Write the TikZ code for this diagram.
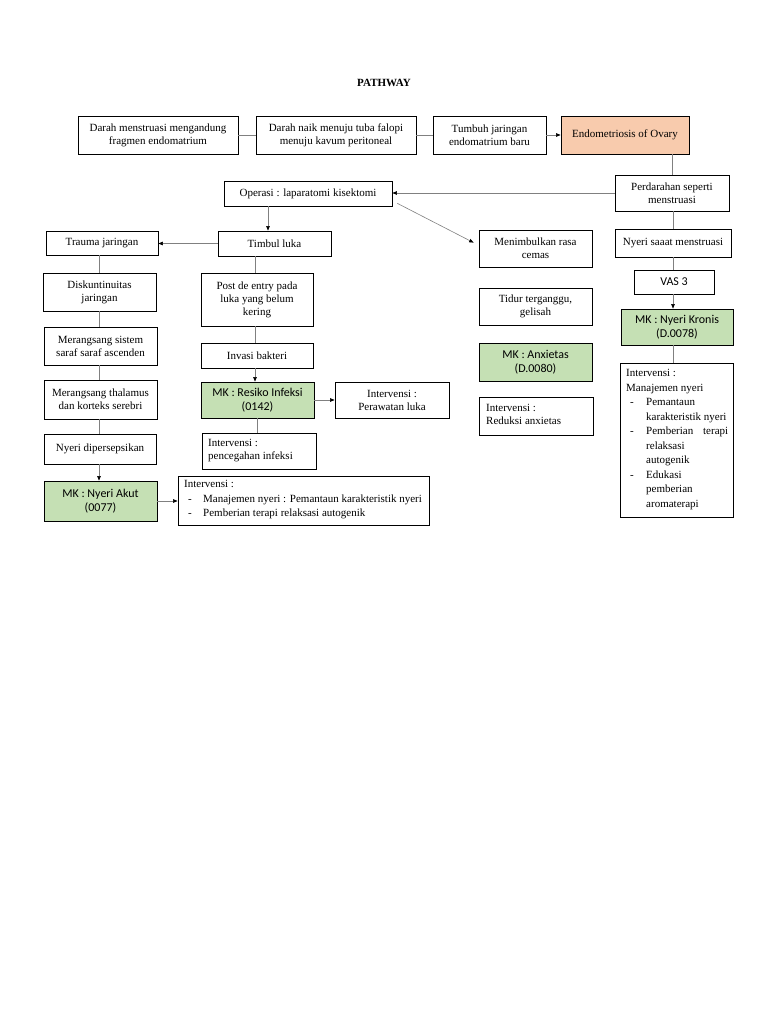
\documentclass[tikz,border=0pt]{standalone}
\usepackage{fontspec}
\setmainfont{Liberation Serif}
\newfontfamily\mkfont{Carlito}
\usetikzlibrary{arrows.meta}
\definecolor{mkgreen}{HTML}{C5E0B4}
\definecolor{peach}{HTML}{F8CBAD}
\begin{document}
\begin{tikzpicture}[x=1pt,y=-1pt,
  box/.style={draw=black, line width=0.75pt, inner sep=0pt, align=center,
    font=\fontsize{11}{13}\selectfont},
  mk/.style={box, fill=mkgreen, font=\mkfont\fontsize{12}{14.5}\selectfont},
  ln/.style={draw=black!50, line width=0.6pt},
  ar/.style={ln, -{Triangle[length=4.5pt,width=3.5pt,black]}},
  txt/.style={inner sep=0pt, anchor=north west, align=left,
    font=\fontsize{11}{14.5}\selectfont},
  txts/.style={inner sep=0pt, anchor=north west, align=left,
    font=\fontsize{11}{13}\selectfont}
]
\fill[white] (0,0) rectangle (768,1024);
\useasboundingbox (0,0) rectangle (768,1024);

\node[font=\bfseries\fontsize{11}{13}\selectfont] (title) at (384,83) {PATHWAY};

% top row
\node[box, minimum width=160pt, minimum height=38pt] (b1) at (158,135) {Darah menstruasi mengandung\\fragmen endomatrium};
\node[box, minimum width=160pt, minimum height=38pt] (b2) at (336,135) {Darah naik menuju tuba falopi\\menuju kavum peritoneal};
\node[box, minimum width=113pt, minimum height=38pt] (b3) at (489.5,135) {Tumbuh jaringan\\endomatrium baru};
\node[box, fill=peach, minimum width=128pt, minimum height=38pt] (b4) at (625,135) {Endometriosis of Ovary};

% right column
\node[box, minimum width=114pt, minimum height=36pt] (perd) at (672,193) {Perdarahan seperti\\menstruasi};
\node[box, minimum width=116pt, minimum height=28pt] (nsaat) at (673,243) {Nyeri saaat menstruasi};
\node[box, font=\mkfont\fontsize{12}{14}\selectfont, minimum width=80pt, minimum height=24pt] (vas) at (674,282) {VAS 3};
\node[mk, minimum width=112pt, minimum height=36pt] (mkkron) at (677,327) {MK : Nyeri Kronis\\(D.0078)};
\node[box, minimum width=113pt, minimum height=154pt] (intr) at (676.5,440) {};
\node[txt] (intrt) at (626,369.5) {Intervensi :\\Manajemen nyeri\\
\hspace*{4pt}\makebox[16pt][l]{-}Pemantaun\\
\hspace*{20pt}karakteristik nyeri\\
\hspace*{4pt}\makebox[16pt][l]{-}\makebox[82pt][s]{Pemberian\hfill terapi}\\
\hspace*{20pt}relaksasi\\
\hspace*{20pt}autogenik\\
\hspace*{4pt}\makebox[16pt][l]{-}Edukasi\\
\hspace*{20pt}pemberian\\
\hspace*{20pt}aromaterapi};

% middle-right column
\node[box, minimum width=113pt, minimum height=37pt] (cemas) at (535.5,248.5) {Menimbulkan rasa\\cemas};
\node[box, minimum width=113pt, minimum height=37pt] (tidur) at (535.5,306.5) {Tidur terganggu,\\gelisah};
\node[mk, minimum width=113pt, minimum height=38pt] (mkanx) at (535.5,362) {MK : Anxietas\\(D.0080)};
\node[box, minimum width=114pt, minimum height=38pt] (intanx) at (536,416) {};
\node[txts] (intanxt) at (486,404.5) {Intervensi :\\Reduksi anxietas};

% operasi & middle column
\node[box, minimum width=168pt, minimum height=25pt] (oper) at (308,193.5) {Operasi : laparatomi kisektomi};
\node[box, minimum width=113pt, minimum height=25pt] (timbul) at (274.5,243.5) {Timbul luka};
\node[box, minimum width=112pt, minimum height=53pt] (post) at (257,299.5) {Post de entry pada\\luka yang belum\\kering};
\node[box, minimum width=112pt, minimum height=25pt] (invasi) at (257,355.5) {Invasi bakteri};
\node[mk, minimum width=113pt, minimum height=36pt] (mkinf) at (257.5,400) {MK : Resiko Infeksi\\(0142)};
\node[box, minimum width=114pt, minimum height=36pt] (intluka) at (392,400) {Intervensi :\\Perawatan luka};
\node[box, minimum width=114pt, minimum height=36pt] (intceg) at (259,451) {};
\node[txts] (intcegt) at (208,439.5) {Intervensi :\\pencegahan infeksi};

% left column
\node[box, minimum width=112pt, minimum height=24pt] (trauma) at (102,243) {Trauma jaringan};
\node[box, minimum width=113pt, minimum height=38pt] (disk) at (99.5,292) {Diskuntinuitas\\jaringan};
\node[box, minimum width=113pt, minimum height=38pt] (msis) at (100.5,346) {Merangsang sistem\\saraf saraf ascenden};
\node[box, minimum width=113pt, minimum height=39pt] (mthal) at (100.5,399.5) {Merangsang thalamus\\dan korteks serebri};
\node[box, minimum width=112pt, minimum height=30pt] (ndip) at (100,449) {Nyeri dipersepsikan};
\node[mk, minimum width=113pt, minimum height=40pt] (mkakut) at (100.5,501) {MK : Nyeri Akut\\(0077)};
\node[box, minimum width=251pt, minimum height=49pt] (intb) at (303.5,500.5) {};
\node[txt] (intbt) at (184,480.5) {Intervensi :\\
\hspace*{4pt}\makebox[15pt][l]{-}Manajemen nyeri : Pemantaun karakteristik nyeri\\
\hspace*{4pt}\makebox[15pt][l]{-}Pemberian terapi relaksasi autogenik};

% x guides
\path (268,0) coordinate (xa) (255,0) coordinate (xb) (257,0) coordinate (xc)
      (99,0) coordinate (xd) (673,0) coordinate (xe);

% connectors
\draw[ln] (b1.east) -- (b2.west);
\draw[ln] (b2.east) -- (b3.west);
\draw[ar] (b3.east) -- (b4.west);
\draw[ln] (b4.south -| perd.north) -- (perd.north);
\draw[ar] (perd.west) -- (perd.west -| oper.east);
\draw[ar] ([xshift=5pt,yshift=3pt]oper.south east) -- ([xshift=-5pt,yshift=-13pt]cemas.north west);
\draw[ln] (perd.south -| xe) -- (nsaat.north -| xe);
\draw[ln] (nsaat.south -| xe) -- (vas.north -| xe);
\draw[ar] (vas.south -| xe) -- (mkkron.north -| xe);
\draw[ln] (mkkron.south -| xe) -- (intr.north -| xe);

\draw[ar] (oper.south -| xa) -- (timbul.north -| xa);
\draw[ar] (timbul.west) -- (timbul.west -| trauma.east);
\draw[ln] (timbul.south -| xb) -- (post.north -| xb);
\draw[ln] (post.south -| xb) -- (invasi.north -| xb);
\draw[ar] (invasi.south -| xb) -- (mkinf.north -| xb);
\draw[ar] (mkinf.east) -- (intluka.west);
\draw[ln] (mkinf.south -| xc) -- (intceg.north -| xc);

\draw[ln] (trauma.south -| xd) -- (disk.north -| xd);
\draw[ln] (disk.south -| xd) -- (msis.north -| xd);
\draw[ln] (msis.south -| xd) -- (mthal.north -| xd);
\draw[ln] (mthal.south -| xd) -- (ndip.north -| xd);
\draw[ar] (ndip.south -| xd) -- (mkakut.north -| xd);
\draw[ar] (mkakut.east) -- (mkakut.east -| intb.west);
\end{tikzpicture}
\end{document}
